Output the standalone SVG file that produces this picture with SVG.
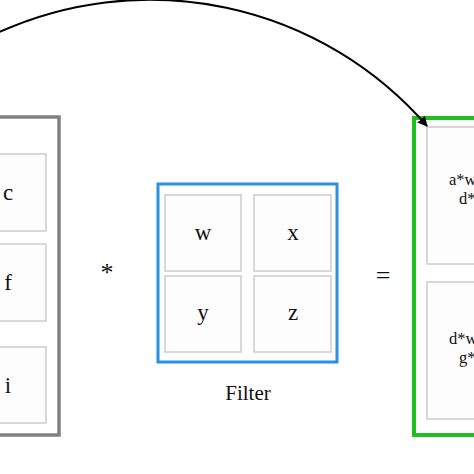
<svg xmlns="http://www.w3.org/2000/svg" width="474" height="474" viewBox="0 0 474 474">
<defs>
<style>
.cell{fill:#fdfdfd;stroke:#cccccc;stroke-width:1.5}
.t{font-family:"Liberation Serif","Times New Roman",serif;fill:#111;text-anchor:middle}
.big{font-size:23px}
.small{font-size:16.5px;text-anchor:start}
</style>
<marker id="arr" viewBox="0 0 10 10" refX="9" refY="5" markerWidth="10" markerHeight="10" markerUnits="userSpaceOnUse" orient="auto">
<path d="M0,0 L10,5 L0,10 z" fill="#000"/>
</marker>
</defs>
<rect width="474" height="474" fill="#fff"/>
<g id="input">
<rect x="-40" y="117" width="99" height="318" fill="#fff" stroke="#808080" stroke-width="3.5"/>
<rect class="cell" x="-31" y="154" width="77" height="77"/>
<rect class="cell" x="-31" y="244" width="77" height="77"/>
<rect class="cell" x="-31" y="347" width="77" height="76"/>
<text class="t big" x="8" y="200">c</text>
<text class="t big" x="8" y="290">f</text>
<text class="t big" x="8" y="393">i</text>
</g>
<g id="op-mul"><text class="t" x="107" y="281" font-size="26">*</text></g>
<g id="filter">
<rect x="158" y="184" width="179" height="178" fill="#fff" stroke="#2a90e0" stroke-width="3"/>
<rect class="cell" x="165" y="195" width="76" height="76"/>
<rect class="cell" x="254" y="195" width="77" height="76"/>
<rect class="cell" x="165" y="276" width="76" height="76"/>
<rect class="cell" x="254" y="276" width="77" height="76"/>
<text class="t big" x="203" y="240">w</text>
<text class="t big" x="293" y="240">x</text>
<text class="t big" x="203" y="320">y</text>
<text class="t big" x="293" y="320">z</text>
<text class="t" x="248" y="400" font-size="21">Filter</text>
</g>
<g id="op-eq"><text class="t" x="383" y="284" font-size="26">=</text></g>
<g id="output">
<rect x="414" y="118" width="100" height="317" fill="#fff" stroke="#1fbf1f" stroke-width="4"/>
<rect class="cell" x="427" y="127" width="140" height="137"/>
<rect class="cell" x="427" y="282" width="140" height="137"/>
<text class="t small" x="449" y="185">a*w + b*x +</text>
<text class="t small" x="459" y="204">d*y + e*z</text>
<text class="t small" x="449" y="344">d*w + e*x +</text>
<text class="t small" x="459" y="363">g*y + h*z</text>
</g>
<g id="connectors">
<path d="M -5 34 A 367 367 0 0 1 427 126" fill="none" stroke="#000" stroke-width="2" marker-end="url(#arr)"/>
</g>
</svg>
